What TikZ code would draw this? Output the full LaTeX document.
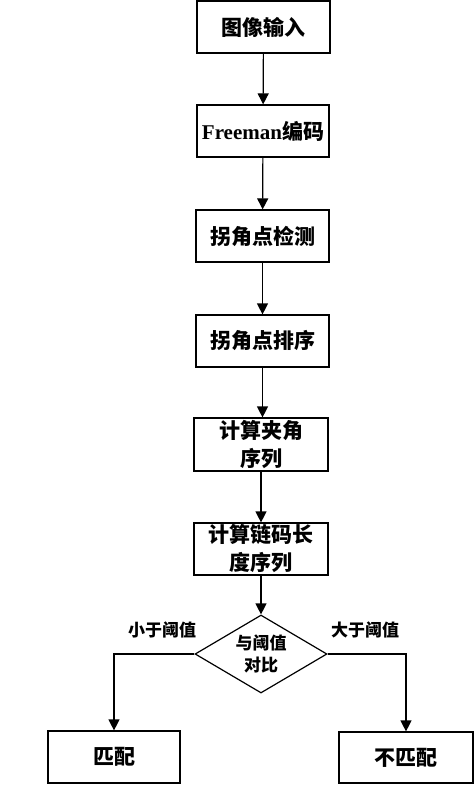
\documentclass[tikz,border=0pt]{standalone}
\usepackage{fontspec}
\newfontfamily\cjk{Noto Sans CJK SC}
\newfontfamily\lat{Liberation Serif}
\usetikzlibrary{shapes.geometric,arrows.meta}
\begin{document}
\begin{tikzpicture}[x=1pt,y=-1pt,line width=1.2pt,
  stepbox/.style={draw,rectangle,inner sep=0pt,align=center,
    font=\cjk\bfseries\fontsize{21}{28}\selectfont},
  lbl/.style={font=\cjk\bfseries\fontsize{17}{20}\selectfont,inner sep=0pt},
  arr/.style={-{Triangle[width=11pt,length=11pt]}}]
\useasboundingbox (0,0) rectangle (474,786);
\node[stepbox,minimum width=133pt,minimum height=52pt] (b1) at (263.5,27) {图像输入};
\node[stepbox,minimum width=132pt,minimum height=52pt] (b2) at (263,131) {{\lat\bfseries Freeman}编码};
\node[stepbox,minimum width=133pt,minimum height=52pt] (b3) at (262.5,236) {拐角点检测};
\node[stepbox,minimum width=133pt,minimum height=52pt] (b4) at (262.5,341) {拐角点排序};
\node[stepbox,minimum width=134pt,minimum height=53pt] (b5) at (261,444.5) {计算夹角\\序列};
\node[stepbox,minimum width=134pt,minimum height=52pt] (b6) at (261,549) {计算链码长\\度序列};
\node[draw,diamond,shape aspect=1.69,inner sep=0pt,minimum width=132pt,minimum height=78pt] (d) at (261,654) {};
\node[lbl,align=center,font=\cjk\bfseries\fontsize{17}{22}\selectfont] (dt) at (261,654) {与阈值\\对比};
\node[stepbox,minimum width=132pt,minimum height=52pt] (m) at (114,757) {匹配};
\node[stepbox,minimum width=134pt,minimum height=51pt] (nm) at (406,757.5) {不匹配};
\node[lbl] (l1) at (162,630) {小于阈值};
\node[lbl] (l2) at (365,630) {大于阈值};
\draw[arr] (b1) -- (b2);
\draw[arr] (b2) -- (b3);
\draw[arr] (b3) -- (b4);
\draw[arr] (b4.south) -- (b5.north -| b4.south);
\draw[arr] (b5) -- (b6);
\draw[arr] (b6.south) -- (d.north);
\draw[arr] (d.west) -| (m.north);
\draw[arr] (d.east) -| (nm.north);
\end{tikzpicture}
\end{document}
